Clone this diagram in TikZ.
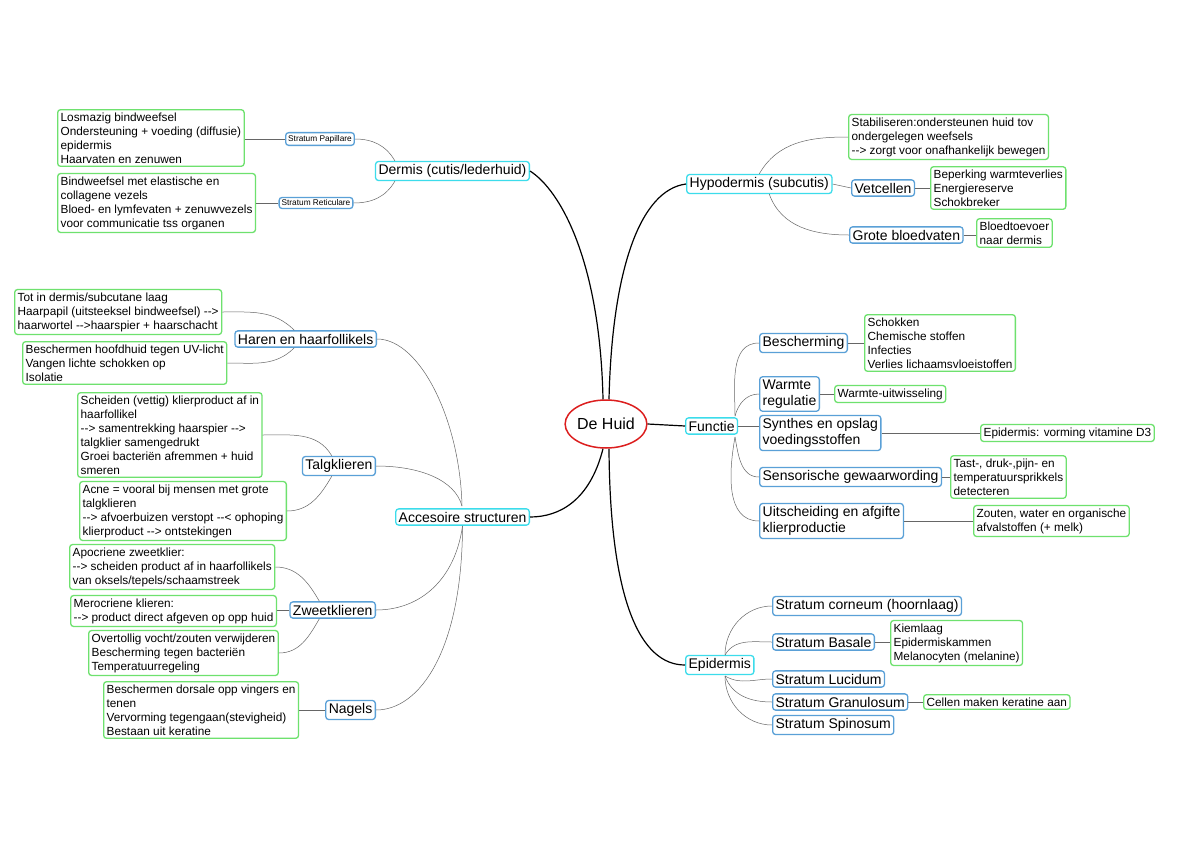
\documentclass[tikz,border=0pt]{standalone}
\usepackage{fontspec}
\setmainfont{Liberation Sans}
\usetikzlibrary{shapes.geometric}
\newcommand\dd{-{}-}
\begin{document}
\begin{tikzpicture}[x=1pt,y=-1pt,
 base/.style={rounded corners=3pt,line width=1.3pt,fill=white,align=left,inner sep=3pt,font=\fontsize{11.8}{14}\selectfont},
 cy/.style={base,draw={rgb,255:red,60;green,220;blue,235},font=\fontsize{14}{16}\selectfont},
 bl/.style={base,draw={rgb,255:red,90;green,160;blue,215},font=\fontsize{14}{16}\selectfont},
 gr/.style={base,draw={rgb,255:red,110;green,225;blue,110}},
 sm/.style={base,draw={rgb,255:red,90;green,160;blue,215},font=\fontsize{8.3}{10}\selectfont,inner sep=2.5pt},
 mainl/.style={line width=1.2pt,black},
 thin/.style={gray!80!black,line width=0.5pt}]
\useasboundingbox (0,0) rectangle (1200,849);
\fill[white] (0,0) rectangle (1200,849);

\node[ellipse,draw={rgb,255:red,220;green,30;blue,30},line width=1.5pt,minimum width=78pt,minimum height=48pt,inner sep=0pt,font=\fontsize{16}{18}\selectfont,fill=white] (c) at (606,424) {De Huid};

% main
\node[cy,anchor=east] (dermis) at (530,171) {Dermis (cutis/lederhuid)};
\node[cy,anchor=west] (hypo) at (686,184) {Hypodermis (subcutis)};
\node[cy,anchor=east] (acc) at (530,517) {Accesoire structuren};
\node[cy,anchor=west] (func) at (685,426) {Functie};
\node[cy,anchor=west] (epi) at (685,665) {Epidermis};

\draw[mainl] (c.north) ++(-3,0) .. controls (600,260) and (560,190) .. (dermis.east);
\draw[mainl] (c.north) ++(3,0) .. controls (612,270) and (640,190) .. (hypo.west);
\draw[mainl] (c.south) ++(-3,0) .. controls (590,500) and (560,517) .. (acc.east);
\draw[mainl] (c.east) -- (func.west);
\draw[mainl] (c.south) ++(3,0) .. controls (610,600) and (640,665) .. (epi.west);

% Dermis
\node[sm,anchor=center] (pap) at (320,139) {Stratum Papillare};
\node[sm,anchor=center] (ret) at (316,203) {Stratum Reticulare};
\node[gr,anchor=west] (d1) at (57,138) {Losmazig bindweefsel\\Ondersteuning + voeding (diffusie)\\epidermis\\Haarvaten en zenuwen};
\node[gr,anchor=west] (d2) at (57,203) {Bindweefsel met elastische en\\collagene vezels\\Bloed- en lymfevaten + zenuwvezels\\voor communicatie tss organen};
\draw[thin] (dermis.north west)++(20,0) to[out=120,in=0] (pap.east);
\draw[thin] (dermis.south west)++(20,0) to[out=240,in=0] (ret.east);
\draw[thin] (pap.west) -- (d1.east|-pap.west);
\draw[thin] (ret.west) -- (d2.east|-ret.west);

% Hypodermis
\node[gr,anchor=west] (h1) at (848,137) {Stabiliseren:ondersteunen huid tov\\ondergelegen weefsels\\\dd> zorgt voor onafhankelijk bewegen};
\node[bl,anchor=west] (vet) at (851,188) {Vetcellen};
\node[gr,anchor=west] (h2) at (930,188) {Beperking warmteverlies\\Energiereserve\\Schokbreker};
\node[bl,anchor=west] (grote) at (849,235) {Grote bloedvaten};
\node[gr,anchor=west] (h3) at (976,233) {Bloedtoevoer\\naar dermis};
\draw[thin] (hypo.north) to[out=60,in=180] (h1.west);
\draw[thin] (hypo.east) -- (vet.west);
\draw[thin] (hypo.south)++(10,0) to[out=-70,in=180] (grote.west);
\draw[thin] (vet.east) -- (h2.west|-vet.east);
\draw[thin] (grote.east) -- (h3.west|-grote.east);

% Accesoire
\node[bl,anchor=east] (haren) at (377,339) {Haren en haarfollikels};
\node[gr,anchor=west] (a1) at (14,312) {Tot in dermis/subcutane laag\\Haarpapil (uitsteeksel bindweefsel) \dd>\\haarwortel \dd>haarspier + haarschacht};
\node[gr,anchor=west] (a2) at (22,363) {Beschermen hoofdhuid tegen UV-licht\\Vangen lichte schokken op\\Isolatie};
\node[bl,anchor=east] (talg) at (376,466) {Talgklieren};
\node[gr,anchor=west] (a3) at (77,435) {Scheiden (vettig) klierproduct af in\\haarfollikel\\\dd> samentrekking haarspier \dd>\\talgklier samengedrukt\\Groei bacteriën afremmen + huid\\smeren};
\node[gr,anchor=west] (a4) at (79,511) {Acne = vooral bij mensen met grote\\talgklieren\\\dd> afvoerbuizen verstopt \dd< ophoping\\klierproduct \dd> ontstekingen};
\node[bl,anchor=east] (zweet) at (376,610) {Zweetklieren};
\node[gr,anchor=west] (a5) at (69,567) {Apocriene zweetklier:\\\dd> scheiden product af in haarfollikels\\van oksels/tepels/schaamstreek};
\node[gr,anchor=west] (a6) at (70,611) {Merocriene klieren:\\\dd> product direct afgeven op opp huid};
\node[gr,anchor=west] (a7) at (88,653) {Overtollig vocht/zouten verwijderen\\Bescherming tegen bacteriën\\Temperatuurregeling};
\node[bl,anchor=east] (nagels) at (376,710) {Nagels};
\node[gr,anchor=west] (a8) at (103,710) {Beschermen dorsale opp vingers en\\tenen\\Vervorming tegengaan(stevigheid)\\Bestaan uit keratine};
\coordinate (ah) at (462,506);
\draw[thin] (ah) .. controls (460,420) and (420,339) .. (haren.east);
\draw[thin] (ah) .. controls (455,480) and (420,466) .. (talg.east);
\draw[thin] (acc.south) .. controls (455,580) and (420,610) .. (zweet.east);
\draw[thin] (acc.south) .. controls (462,650) and (420,710) .. (nagels.east);
\draw[thin] (haren.north west)++(60,0) to[out=135,in=0] (a1.east);
\draw[thin] (haren.south west)++(60,0) to[out=225,in=0] (a2.east);
\draw[thin] (talg.north west)++(30,0) to[out=120,in=0] (a3.east);
\draw[thin] (talg.south west)++(30,0) to[out=240,in=0] (a4.east);
\draw[thin] (zweet.north west)++(30,0) to[out=120,in=0] (a5.east);
\draw[thin] (zweet.west) -- (a6.east|-zweet.west);
\draw[thin] (zweet.south west)++(30,0) to[out=240,in=0] (a7.east);
\draw[thin] (nagels.west) -- (a8.east);

% Functie
\node[bl,anchor=west] (besch) at (759,343) {Bescherming};
\node[gr,anchor=west] (f1) at (864,343) {Schokken\\Chemische stoffen\\Infecties\\Verlies lichaamsvloeistoffen};
\node[bl,anchor=west] (warm) at (759,394) {Warmte\\regulatie};
\node[gr,anchor=west] (f2) at (834,394) {Warmte-uitwisseling};
\node[bl,anchor=west] (synth) at (759,433) {Synthes en opslag\\voedingsstoffen\hspace{48pt}};
\node[gr,anchor=west] (f3) at (980,433) {Epidermis: vorming vitamine D3};
\node[bl,anchor=west] (sens) at (759,477) {Sensorische gewaarwording};
\node[gr,anchor=west] (f4) at (950,477) {Tast-, druk-,pijn- en\\temperatuursprikkels\\detecteren};
\node[bl,anchor=west] (uit) at (759,521) {Uitscheiding en afgifte\\klierproductie\hspace{58pt}};
\node[gr,anchor=west] (f5) at (973,521) {Zouten, water en organische\\afvalstoffen (+ melk)};
\coordinate (fu) at (735,416);
\coordinate (fd) at (735,437);
\draw[thin] (fu) to[out=90,in=180] (besch.west);
\draw[thin] (fu) to[out=75,in=180] (warm.west);
\draw[thin] (func.east) -- (synth.west|-func.east);
\draw[thin] (fd) to[out=-80,in=180] (sens.west);
\draw[thin] (fd) to[out=-100,in=180] (uit.west);
\draw[thin] (besch.east) -- (f1.west|-besch.east);
\draw[thin] (warm.east) -- (f2.west);
\draw[thin] (synth.east) -- (f3.west|-synth.east);
\draw[thin] (sens.east) -- (f4.west|-sens.east);
\draw[thin] (uit.east) -- (f5.west|-uit.east);

% Epidermis
\node[bl,anchor=west] (corn) at (772,606) {Stratum corneum (hoornlaag)};
\node[bl,anchor=west] (bas) at (772,642) {Stratum Basale};
\node[gr,anchor=west] (e1) at (890,643) {Kiemlaag\\Epidermiskammen\\Melanocyten (melanine)};
\node[bl,anchor=west] (luc) at (772,679) {Stratum Lucidum};
\node[bl,anchor=west] (gran) at (772,702) {Stratum Granulosum};
\node[gr,anchor=west] (e2) at (923,702) {Cellen maken keratine aan};
\node[bl,anchor=west] (spin) at (772,725) {Stratum Spinosum};
\coordinate (eu) at (725,655);
\coordinate (ed) at (725,676);
\draw[thin] (eu) to[out=90,in=180] (corn.west);
\draw[thin] (eu) to[out=60,in=180] (bas.west);
\draw[thin] (ed) to[out=-30,in=180] (luc.west);
\draw[thin] (ed) to[out=-70,in=180] (gran.west);
\draw[thin] (ed) to[out=-90,in=180] (spin.west);
\draw[thin] (bas.east) -- (e1.west|-bas.east);
\draw[thin] (gran.east) -- (e2.west);
\end{tikzpicture}
\end{document}
